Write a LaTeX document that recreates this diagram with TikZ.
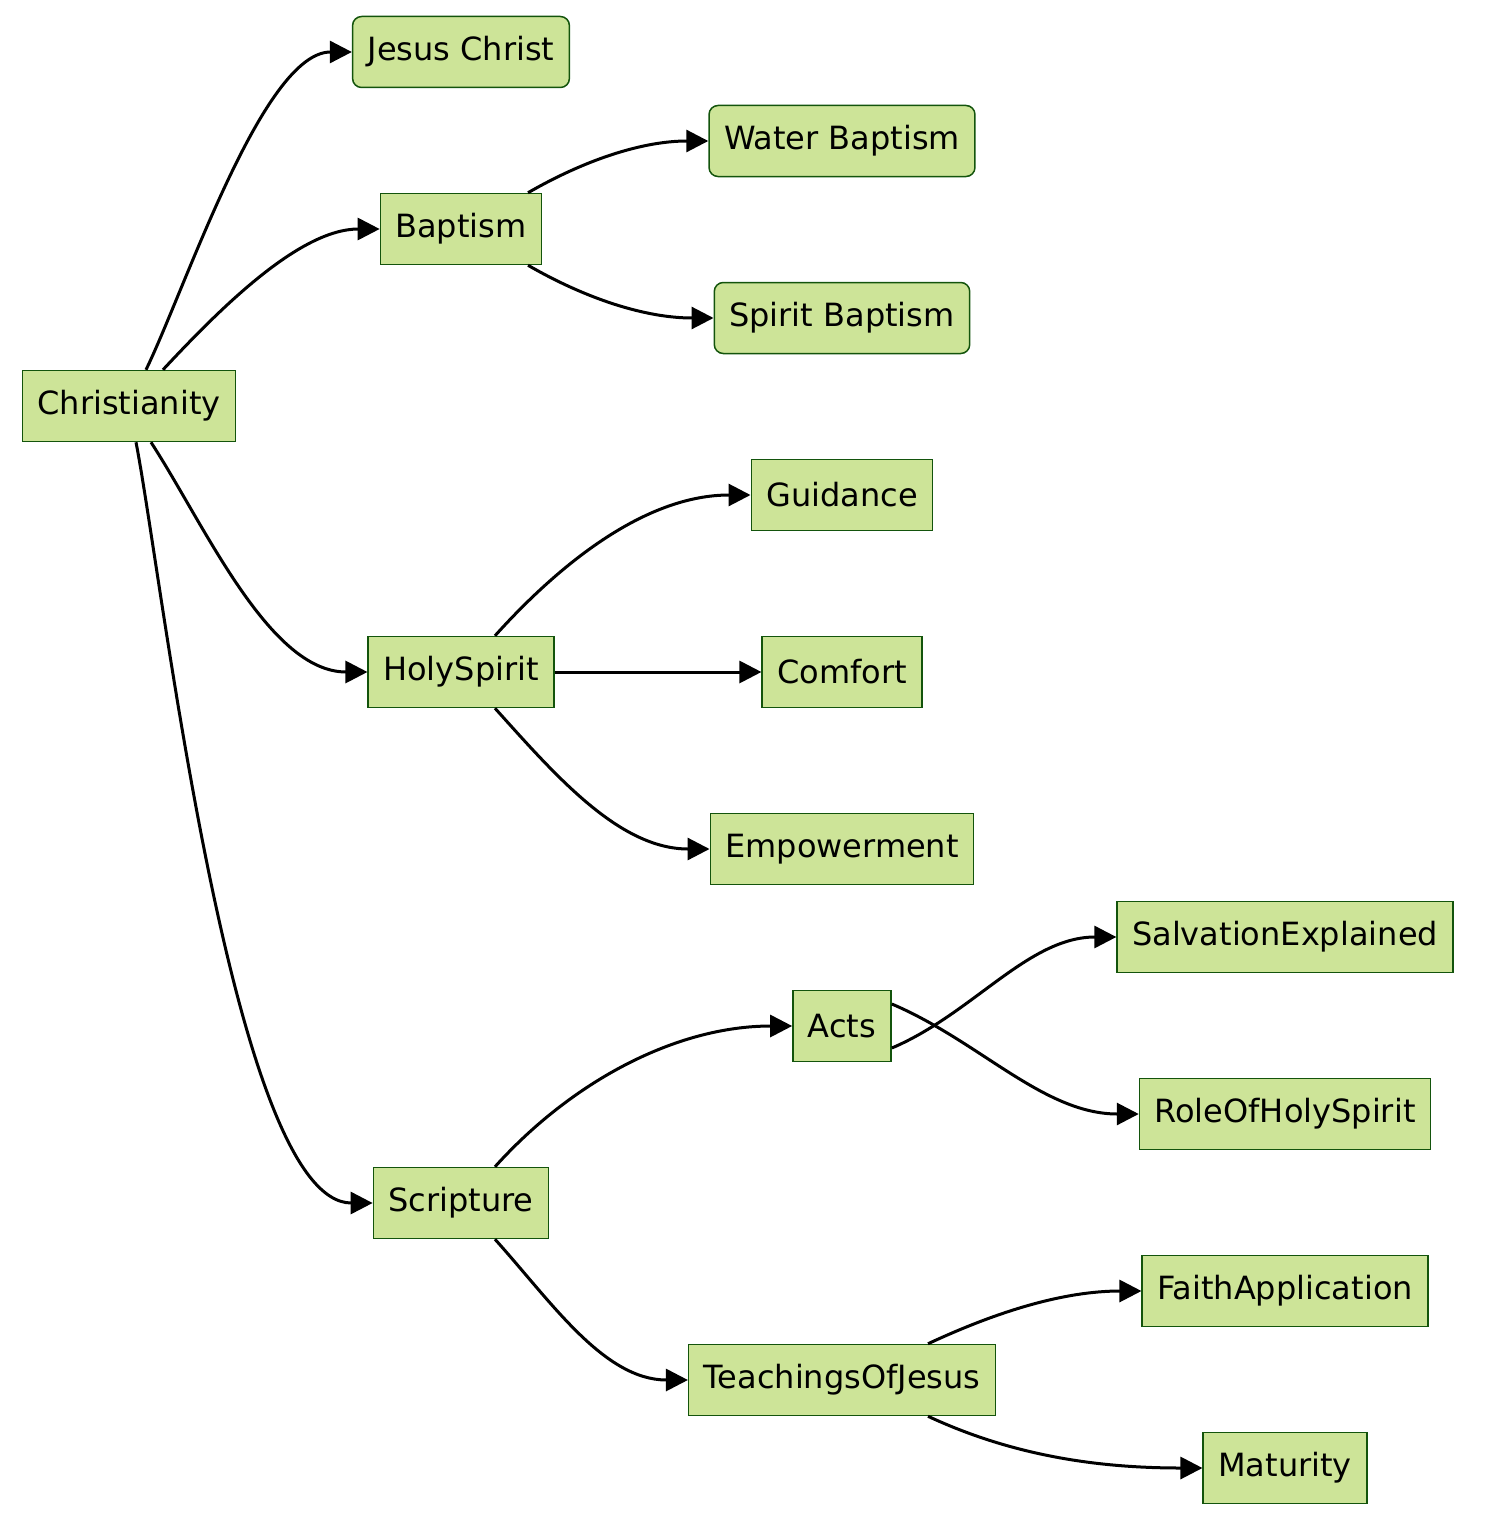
\documentclass[tikz,border=0pt]{standalone}
\usepackage{fontspec}
\setmainfont{DejaVu Sans}
\usetikzlibrary{arrows.meta}
\definecolor{boxfill}{HTML}{CDE498}
\definecolor{boxline}{HTML}{13540C}
\tikzset{
  box/.style={draw=boxline, fill=boxfill, line width=1.5pt, minimum height=71pt,
    inner xsep=15pt, font=\fontsize{32}{38}\selectfont},
  rbox/.style={box, rounded corners=9pt},
  link/.style={line width=3pt, -{Triangle[length=22pt,width=22pt]}}
}
\begin{document}
\begin{tikzpicture}[x=1pt,y=-1pt]
	\useasboundingbox (0,0) rectangle (1496,1536);

	% Nodes
	\node[box]  (chr) at (129,406)  {Christianity};
	\node[rbox] (jc)  at (461,52)   {Jesus Christ};
	\node[box]  (bap) at (461,229)  {Baptism};
	\node[rbox] (wat) at (842,141)  {Water Baptism};
	\node[rbox] (spb) at (842,318)  {Spirit Baptism};
	\node[box]  (hs)  at (461,672)  {HolySpirit};
	\node[box]  (gui) at (842,495)  {Guidance};
	\node[box]  (com) at (842,672)  {Comfort};
	\node[box]  (emp) at (842,849)  {Empowerment};
	\node[box]  (scr) at (461,1203) {Scripture};
	\node[box]  (act) at (842,1026) {Acts};
	\node[box]  (sal) at (1285,937) {SalvationExplained};
	\node[box]  (rol) at (1285,1114) {RoleOfHolySpirit};
	\node[box]  (tea) at (842,1380) {TeachingsOfJesus};
	\node[box]  (fai) at (1285,1291) {FaithApplication};
	\node[box]  (mat) at (1285,1468) {Maturity};

	% Connectors
	\draw[link] ([xshift=17pt]chr.north) to[out=64,in=180,looseness=0.6] (jc.west);
	\draw[link] ([xshift=34pt]chr.north) to[out=47,in=180,looseness=0.8] (bap.west);
	\draw[link] ([xshift=22pt]chr.south) to[out=-57,in=180,looseness=0.8] (hs.west);
	\draw[link] ([xshift=7pt]chr.south) to[out=-79,in=180,looseness=0.45] (scr.west);
	\draw[link] ([xshift=67pt]bap.north) to[out=30,in=180,looseness=0.9] (wat.west);
	\draw[link] ([xshift=67pt]bap.south) to[out=-30,in=180,looseness=0.9] (spb.west);
	\draw[link] ([xshift=34pt]hs.north) to[out=48,in=180,looseness=0.9] (gui.west);
	\draw[link] (hs.east) -- (com.west);
	\draw[link] ([xshift=34pt]hs.south) to[out=-48,in=180,looseness=0.9] (emp.west);
	\draw[link] ([xshift=34pt]scr.north) to[out=48,in=180,looseness=0.9] (act.west);
	\draw[link] ([xshift=34pt]scr.south) to[out=-48,in=180,looseness=0.9] (tea.west);
	\draw[link] ([yshift=-22pt]act.east) to[out=23,in=180,looseness=0.9] (sal.west);
	\draw[link] ([yshift=22pt]act.east) to[out=-23,in=180,looseness=0.9] (rol.west);
	\draw[link] ([xshift=86pt]tea.north) to[out=25,in=180,looseness=0.9] (fai.west);
	\draw[link] ([xshift=86pt]tea.south) to[out=-25,in=180,looseness=0.9] (mat.west);
\end{tikzpicture}
\end{document}
